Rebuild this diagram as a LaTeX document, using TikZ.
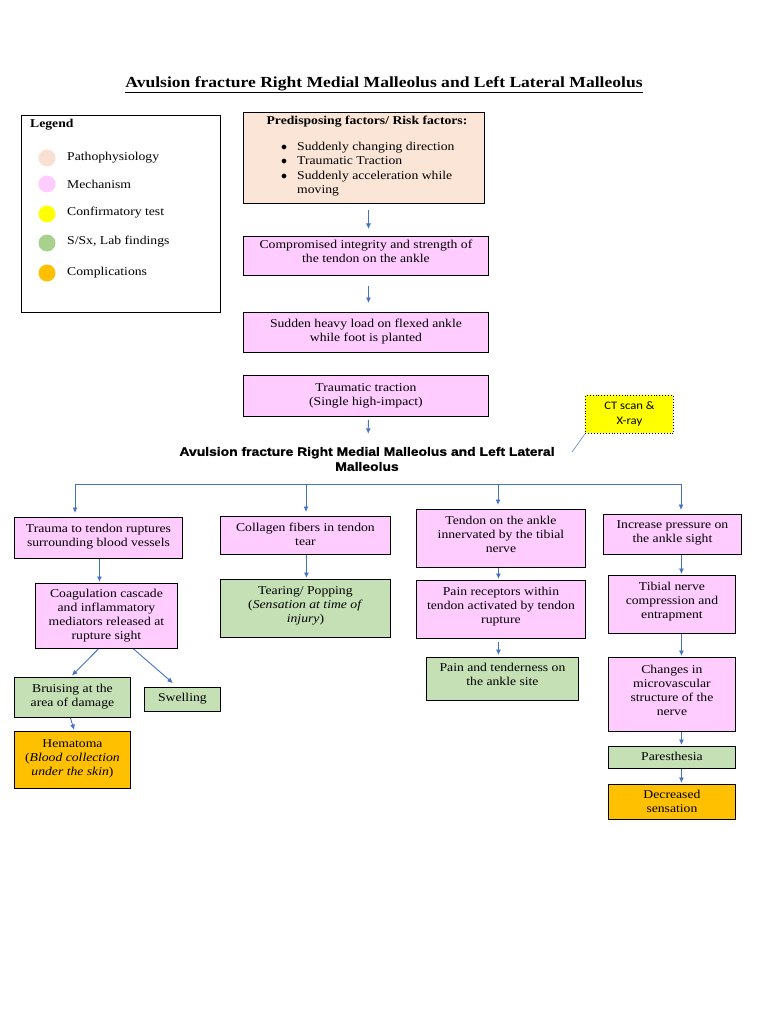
\documentclass[tikz,border=0pt]{standalone}
\usepackage{fontspec}
\setmainfont{Liberation Serif}[FakeStretch=1.14]
\newfontfamily\hfont{Liberation Sans}[FakeStretch=1.14, FakeBold=1.2]
\newfontfamily\cfont{Carlito}[FakeStretch=1.1]
\usetikzlibrary{arrows.meta}
\definecolor{peach}{HTML}{FBE5D6}
\definecolor{pinkb}{HTML}{FFCCFF}
\definecolor{greenb}{HTML}{C5E0B4}
\definecolor{orangeb}{HTML}{FFC000}
\definecolor{yellowb}{HTML}{FFFF00}
\definecolor{peachc}{HTML}{F9E0D2}
\definecolor{greenc}{HTML}{A9D18E}
\definecolor{arrblue}{HTML}{4472C4}
\tikzset{
  box/.style={draw=black, line width=0.9pt, align=center, anchor=north west, inner sep=1pt,
    font=\fontsize{12}{14}\selectfont},
  tbox/.style={box, text depth=8.5pt},
  mech/.style={tbox, fill=pinkb},
  sign/.style={tbox, fill=greenb},
  comp/.style={tbox, fill=orangeb},
  arr/.style={draw=arrblue, line width=0.9pt, -{Latex[length=5.5pt,width=5pt]}},
  conn/.style={draw=arrblue, line width=0.9pt},
  legc/.style={circle, inner sep=0pt, minimum size=17pt},
  legt/.style={anchor=west, inner sep=0pt, font=\fontsize{12}{14}\selectfont}
}
\begin{document}
\begin{tikzpicture}[x=1pt,y=-1pt]
\useasboundingbox (0,0) rectangle (768,1024);
% title
\node[font=\fontsize{15.4}{17}\selectfont\bfseries] (title) at (384,85)
  {\underline{Avulsion fracture Right Medial Malleolus and Left Lateral Malleolus}};
% legend
\node[box, minimum width=199pt, minimum height=197pt] (legend) at (21,115) {};
\node[legt, font=\fontsize{12}{14}\selectfont\bfseries] (legtitle) at (30,125) {Legend};
\node[legc, fill=peachc] (lc1) at (47,158) {};
\node[legt] (lt1) at (67,158) {Pathophysiology};
\node[legc, fill=pinkb] (lc2) at (47,184) {};
\node[legt] (lt2) at (67,184) {Mechanism};
\node[legc, fill=yellowb] (lc3) at (47,214) {};
\node[legt] (lt3) at (67,213) {Confirmatory test};
\node[legc, fill=greenc] (lc4) at (47,243) {};
\node[legt] (lt4) at (67,242) {S/Sx, Lab findings};
\node[legc, fill=orangeb] (lc5) at (47,273) {};
\node[legt] (lt5) at (67,273) {Complications};
% predisposing
\node[box, fill=peach, minimum width=241pt, minimum height=91pt] (pre) at (243,112) {};
\node[font=\fontsize{12}{14}\selectfont\bfseries, inner sep=0pt] (pretitle) at (367,122) {Predisposing factors/ Risk factors:};
\node[anchor=north west, inner sep=0pt, font=\fontsize{12}{14.5}\selectfont, align=left] (prelist) at (281,140)
  {\begin{tabular}{@{}l@{\hspace{10pt}}l@{}}
   $\bullet$ & Suddenly changing direction\\
   $\bullet$ & Traumatic Traction\\
   $\bullet$ & Suddenly acceleration while\\
             & moving
   \end{tabular}};
% main chain
\node[mech, minimum width=245pt, minimum height=39pt] (cmp) at (243,236) {Compromised integrity and strength of\\the tendon on the ankle};
\node[mech, text depth=4.5pt, minimum width=245pt, minimum height=40pt] (sud) at (243,312) {Sudden heavy load on flexed ankle\\while foot is planted};
\node[mech, text depth=3.5pt, minimum width=245pt, minimum height=41pt] (trac) at (243,375) {Traumatic traction\\(Single high-impact)};
\node[align=center, inner sep=1pt, font=\hfont\bfseries\fontsize{12.2}{15}\selectfont] (head) at (367,459)
  {Avulsion fracture Right Medial Malleolus and Left Lateral\\Malleolus};
\node[box, fill=yellowb, dotted, minimum width=88pt, minimum height=38pt, font=\cfont\fontsize{11.5}{15}\selectfont] (ct) at (585,395) {CT scan \&\\X-ray};
\coordinate (ctend) at (572,452);
\draw[draw=arrblue, line width=0.5pt] (ct.south west) -- (ctend);
\draw[arr, shorten <=6pt, shorten >=7pt] ([xshift=4.5pt]pre.south) -- ([xshift=2.5pt]cmp.north);
\draw[arr, shorten <=10pt, shorten >=9pt] ([xshift=2.5pt]cmp.south) -- ([xshift=2.5pt]sud.north);
\draw[arr, shorten <=3pt, shorten >=12pt] ([xshift=2.5pt]trac.south) -- (head.north -| {368,0});
% branch bar
\coordinate (barL) at (75,484);
\coordinate (bar2) at (306,484);
\coordinate (bar3) at (498,484);
\coordinate (barR) at (681,484);
\draw[conn] (barL) -- (barR);
% column A
\node[mech, text depth=5pt, minimum width=168pt, minimum height=41pt] (a1) at (14,517) {Trauma to tendon ruptures\\surrounding blood vessels};
\node[mech, text depth=3pt, minimum width=142pt, minimum height=65pt] (a2) at (35,583) {Coagulation cascade\\and inflammatory\\mediators released at\\rupture sight};
\node[sign, text depth=5pt, minimum width=116pt, minimum height=40pt] (bru) at (14,677) {Bruising at the\\area of damage};
\node[sign, text depth=4.5pt, minimum width=76pt, minimum height=24pt] (swe) at (144,687) {Swelling};
\node[comp, text depth=5pt, minimum width=116pt, minimum height=57pt] (hem) at (14,731) {Hematoma\\(\textit{Blood collection}\\\textit{under the skin})};
\draw[arr, shorten >=4pt] (barL) -- (a1.north -| barL);
\draw[arr, shorten >=1pt] ([xshift=1pt]a1.south) -- ([xshift=-7pt]a2.north);
\draw[arr, shorten >=2pt] ([xshift=-8pt]a2.south) -- ([xshift=-2pt]bru.north);
\draw[arr, shorten >=6pt] ([xshift=27pt]a2.south) -- ([xshift=-5pt]swe.north);
\draw[arr, shorten >=1pt] ([xshift=-2pt]bru.south) -- ([xshift=2pt]hem.north);
% column B
\node[mech, text depth=1.5pt, minimum width=170pt, minimum height=38pt] (b1) at (220,516) {Collagen fibers in tendon\\tear};
\node[sign, minimum width=170pt, minimum height=58pt] (b2) at (220,579) {Tearing/ Popping\\(\textit{Sensation at time of}\\\textit{injury})};
\draw[arr, shorten >=4pt] (bar2) -- (b1.north -| bar2);
\draw[arr, shorten >=1pt] ([xshift=1pt]b1.south) -- ([xshift=1pt]b2.north);
% column C
\node[mech, minimum width=169pt, minimum height=58pt] (c1) at (416,509) {Tendon on the ankle\\innervated by the tibial\\nerve};
\node[mech, minimum width=169pt, minimum height=58pt] (c2) at (416,580) {Pain receptors within\\tendon activated by tendon\\rupture};
\node[sign, minimum width=152pt, minimum height=43pt] (c3) at (426,657) {Pain and tenderness on\\the ankle site};
\draw[arr, shorten >=4pt] (bar3) -- (c1.north -| bar3);
\draw[arr, shorten >=1pt] ([xshift=-2.5pt]c1.south) -- ([xshift=-2.5pt]c2.north);
\draw[arr, shorten <=3pt, shorten >=2pt] ([xshift=-2.5pt]c2.south) -- ([xshift=-4pt]c3.north);
% column D
\node[mech, text depth=6.5pt, minimum width=138pt, minimum height=40pt] (d1) at (603,514) {Increase pressure on\\the ankle sight};
\node[mech, minimum width=127pt, minimum height=58pt] (d2) at (608,575) {Tibial nerve\\compression and\\entrapment};
\node[mech, minimum width=127pt, minimum height=74pt] (d3) at (608,657) {Changes in\\microvascular\\structure of the\\nerve};
\node[sign, text depth=3pt, minimum width=127pt, minimum height=22pt] (d4) at (608,746) {Paresthesia};
\node[comp, text depth=2pt, minimum width=127pt, minimum height=35pt] (d5) at (608,784) {Decreased\\sensation};
\draw[arr, shorten >=4pt] (barR) -- (d1.north -| barR);
\draw[arr, shorten >=1pt] ([xshift=9pt]d1.south) -- ([xshift=9.5pt]d2.north);
\draw[arr, shorten >=1pt] ([xshift=9.5pt]d2.south) -- ([xshift=9.5pt]d3.north);
\draw[arr, shorten >=1pt] ([xshift=9.5pt]d3.south) -- ([xshift=9.5pt]d4.north);
\draw[arr, shorten >=1pt] ([xshift=9.5pt]d4.south) -- ([xshift=9.5pt]d5.north);
\end{tikzpicture}
\end{document}
